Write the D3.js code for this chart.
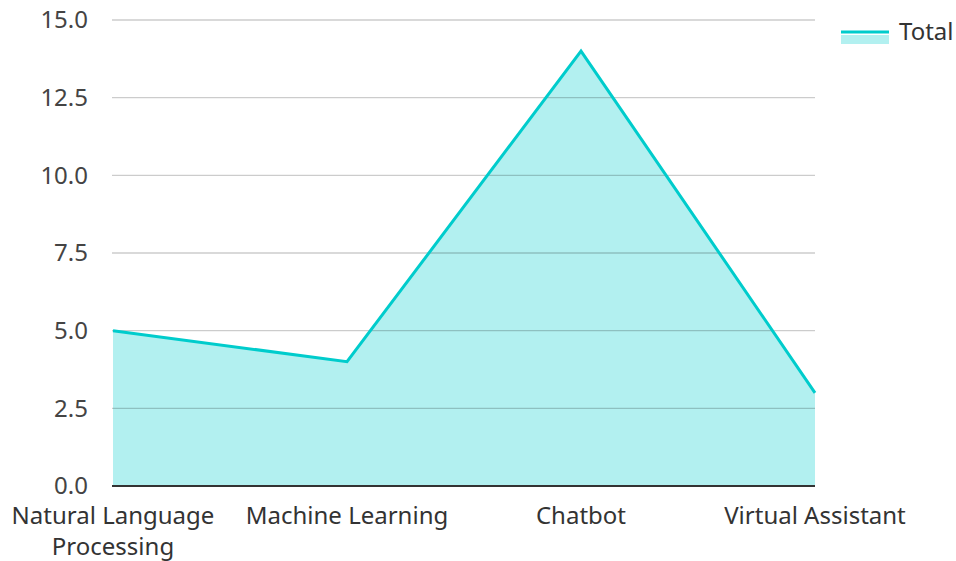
<!DOCTYPE html>
<html><head><meta charset="utf-8">
<script src="https://cdn.jsdelivr.net/npm/d3@7"></script>
<style>body{margin:0;background:#fff;}svg{display:block;font-family:"Noto Sans",sans-serif;}</style>
</head><body>
<svg id="c" width="956" height="561"></svg>
<script>
const categories = ["Natural Language Processing", "Machine Learning", "Chatbot", "Virtual Assistant"];
const totals = [5, 4, 14, 3];
const yTicks = [0, 2.5, 5, 7.5, 10, 12.5, 15];
const seriesName = "Total";

(function(){
const svg = d3.select("#c");
const pL = 113, pR = 815, pT = 20, pB = 486;
const fs = 24;
const x = d3.scalePoint().domain(categories).range([pL, pR]);
const y = d3.scaleLinear().domain([0, 15]).range([pB, pT]);
const lineColor = "#00cccc", fillColor = "rgba(0,204,204,0.3)";

const data = categories.map((c, i) => ({c, v: totals[i]}));
svg.append("path").datum(data)
  .attr("d", d3.area().x(d => x(d.c)).y0(y(0)).y1(d => y(d.v)))
  .attr("fill", fillColor);

svg.append("g").selectAll("line").data(yTicks.filter(t => t > 0)).join("line")
  .attr("x1", pL - 1).attr("x2", pR).attr("y1", d => y(d)).attr("y2", d => y(d))
  .attr("stroke", "rgba(0,0,0,0.2)").attr("stroke-width", 1.3);

svg.append("path").datum(data)
  .attr("d", d3.line().x(d => x(d.c)).y(d => y(d.v)))
  .attr("fill", "none").attr("stroke", lineColor).attr("stroke-width", 3).attr("stroke-linejoin", "miter");

svg.append("line").attr("x1", pL - 1).attr("x2", pR).attr("y1", y(0)).attr("y2", y(0))
  .attr("stroke", "#333").attr("stroke-width", 2);

svg.append("g").selectAll("text").data(yTicks).join("text")
  .attr("x", 88).attr("y", d => y(d)).attr("dy", "0.35em").attr("text-anchor", "end")
  .attr("font-size", fs).attr("fill", "#444").text(d => d3.format(".1f")(d));

const wrap = {"Natural Language Processing": ["Natural Language", "Processing"]};
const xl = svg.append("g").selectAll("text").data(categories).join("text")
  .attr("x", d => x(d)).attr("y", 524).attr("text-anchor", "middle")
  .attr("font-size", fs).attr("fill", "#333");
xl.each(function(d) {
  const lines = wrap[d] || [d];
  d3.select(this).selectAll("tspan").data(lines).join("tspan")
    .attr("x", x(d)).attr("dy", (l, i) => i === 0 ? 0 : 31).text(l => l);
});

const lg = svg.append("g");
lg.append("rect").attr("x", 841).attr("y", 35).attr("width", 48).attr("height", 9).attr("fill", fillColor);
lg.append("line").attr("x1", 841).attr("x2", 889).attr("y1", 32).attr("y2", 32).attr("stroke", lineColor).attr("stroke-width", 3);
lg.append("text").attr("x", 899).attr("y", 32).attr("dy", "0.35em").attr("font-size", fs).attr("fill", "#333").text(seriesName);
})();
</script>
</body></html>
